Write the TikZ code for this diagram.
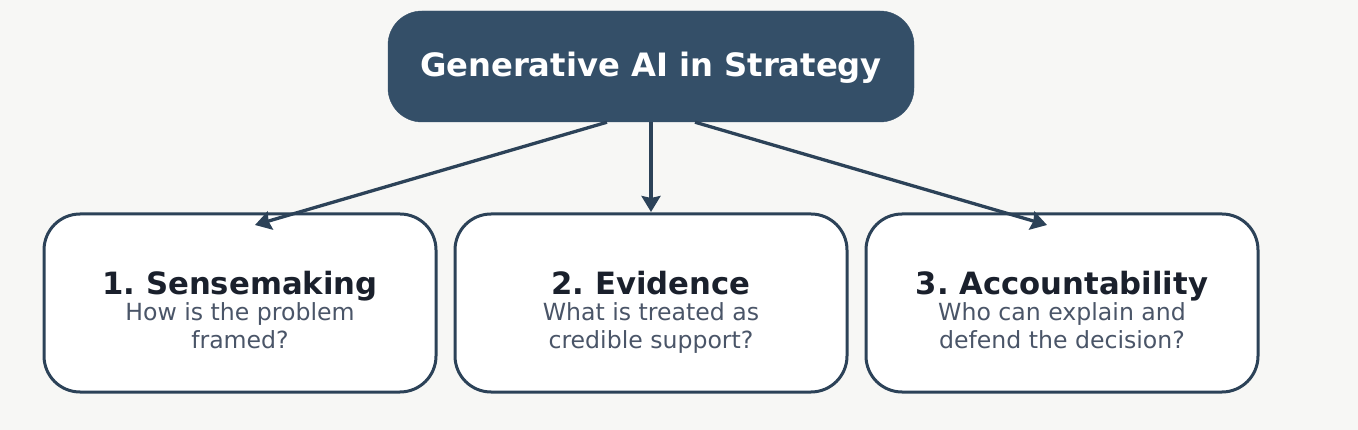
\documentclass[tikz,border=0pt]{standalone}
\usepackage{fontspec}
\setmainfont{DejaVu Sans}
\usetikzlibrary{arrows.meta,calc}
\definecolor{bg}{HTML}{F7F7F5}
\definecolor{topfill}{RGB}{52,79,104}
\definecolor{edge}{RGB}{44,66,88}
\definecolor{titlecol}{RGB}{26,32,44}
\definecolor{subcol}{RGB}{74,85,104}
\tikzset{
  x=1pt,y=1pt,
  topbox/.style={fill=topfill,draw=topfill,rounded corners=34pt,minimum width=526pt,minimum height=111pt,inner sep=0pt},
  stagebox/.style={fill=white,draw=edge,line width=3pt,rounded corners=36pt,minimum width=392pt,minimum height=178pt,inner sep=0pt},
  toptext/.style={text=white,font=\fontsize{32.2}{38}\selectfont\bfseries},
  stitle/.style={text=titlecol,font=\frenchspacing\fontsize{30.7}{36}\selectfont\bfseries,anchor=base},
  ssub/.style={text=subcol,font=\fontsize{23.6}{27.5}\selectfont,align=center,anchor=north},
  conn/.style={draw=edge,line width=3.3pt,-{Stealth[inset=2pt,length=16pt,width=19pt]}}
}
\begin{document}
\begin{tikzpicture}
\fill[bg] (0,0) rectangle (1358,-430);
\useasboundingbox (0,0) rectangle (1358,-430);
\node[topbox] (top) at (651,-66.5) {};
\node[toptext] (toptxt) at (651,-68) {Generative AI in Strategy};
\node[stagebox] (b1) at (240,-303) {};
\node[stagebox] (b2) at (651,-303) {};
\node[stagebox] (b3) at (1062,-303) {};
\node[stitle] (t1) at (240,-295) {1. Sensemaking};
\node[stitle] (t2) at (651,-295) {2. Evidence};
\node[stitle] (t3) at (1062,-295) {3. Accountability};
\node[ssub] (s1) at (240,-299.5) {How is the problem\\framed?};
\node[ssub] (s2) at (651,-299.5) {What is treated as\\credible support?};
\node[ssub] (s3) at (1062,-299.5) {Who can explain and\\defend the decision?};
\coordinate (e1) at (255,-225);
\coordinate (e2) at (651,-212);
\coordinate (e3) at (1047,-225);
\draw[conn] ($(top.south)+(-44,0)$) -- (e1);
\draw[conn] (top.south) -- (e2);
\draw[conn] ($(top.south)+(44,0)$) -- (e3);
\end{tikzpicture}
\end{document}
